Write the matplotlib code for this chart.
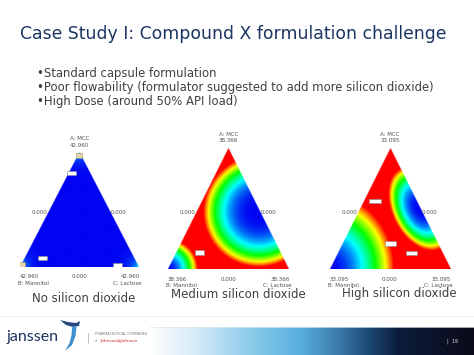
import numpy as np
import matplotlib
matplotlib.use("Agg")
import matplotlib.pyplot as plt
from matplotlib.colors import LinearSegmentedColormap
from matplotlib.patches import Rectangle, Polygon

W, H = 474, 355

# ---- slide text
title = "Case Study I: Compound X formulation challenge"
bullets = ["Standard capsule formulation",
           "Poor flowability (formulator suggested to add more silicon dioxide)",
           "High Dose (around 50% API load)"]
captions = ["No silicon dioxide", "Medium silicon dioxide", "High silicon dioxide"]
corner_max = ["42.960", "38.366", "33.095"]
corner_min = "0.000"
comp_names = ["A: MCC", "B: Mannitol", "C: Lactose"]

# ---- response surface models (low-response wells), one list per panel
# each well: centre (x, y) in triangle coords, axis angle (deg), semi-axes a, b, exponent
wells = [
    [],
    [((0.76, 0.48), 116.6, 0.46, 0.47, 3.0),
     ((0.0, 0.0), 0.0, 0.245, 0.245, 2.0)],
    [((0.0, 0.0), 0.0, 0.53, 0.61, 2.0),
     ((0.75, 0.50), 116.6, 0.37, 0.235, 2.5)],
]
# panel 1 is low everywhere with a small rise at the vertices
flat_level = 0.0
vertex_rise = 0.25

# ---- design points as mixture fractions (A, B, C)
design_pts = [
    [(0.82, 0.16, 0.02), (0.08, 0.77, 0.15), (0.02, 0.17, 0.81)],
    [(0.135, 0.675, 0.19)],
    [(0.56, 0.345, 0.095), (0.21, 0.39, 0.40), (0.13, 0.255, 0.615)],
]
vertex_pts = [(0.97, 0.02, 0.01), (0.02, 0.97, 0.01)]

# triangle boxes in pixels: left, right, top(apex), base
boxes = [(20, 139, 152, 267), (168, 289, 148, 269), (330, 450, 148, 269)]
cap_pos = [(84, 298), (238, 294), (399, 294)]

cmap = LinearSegmentedColormap.from_list(
    "dx", ["#0004f2", "#00ffff", "#00ff00", "#ffff00", "#ff0000"])


def px(x, y):
    return x / W, 1 - y / H


def to_xy(a, b, c):
    return 0.5 * a + c, a


fig = plt.figure(figsize=(W / 100, H / 100), dpi=100)
fig.patch.set_facecolor("white")

# title and bullets
fig.text(*px(20, 34), title, fontsize=12.45, color="#1b3563",
         ha="left", va="center", family="DejaVu Sans")
for i, b in enumerate(bullets):
    fig.text(*px(37, 73 + i * 14.3), "\u2022" + b, fontsize=8.4, color="#404040",
             ha="left", va="center", family="DejaVu Sans")

n = 400
gx, gy = np.meshgrid(np.linspace(0, 1, n), np.linspace(0, 1, n))
inside = (gy <= 2 * gx + 1e-9) & (gy <= 2 * (1 - gx) + 1e-9)

for k in range(3):
    l, r, t, bt = boxes[k]
    ax = fig.add_axes([l / W, 1 - bt / H, (r - l) / W, (bt - t) / H])
    ax.set_xlim(0, 1)
    ax.set_ylim(0, 1)
    ax.axis("off")

    if wells[k]:
        v = np.full(gx.shape, np.inf)
        for (cx, cy), ang, a, b, p in wells[k]:
            th = np.deg2rad(ang)
            dx, dy = gx - cx, gy - cy
            du = dx * np.cos(th) + dy * np.sin(th)
            dn = -dx * np.sin(th) + dy * np.cos(th)
            rr = np.sqrt((du / a) ** 2 + (dn / b) ** 2)
            v = np.minimum(v, rr ** p)
    else:
        v = np.full(gx.shape, flat_level)
        for vx, vy in [(0, 0), (1, 0), (0.5, 1)]:
            d = np.hypot(gx - vx, gy - vy)
            v = v + vertex_rise * np.exp(-d / 0.05)
    v = np.clip(v, 0, 1)
    rgba = cmap(v)
    rgba[..., 3] = inside.astype(float)
    ax.imshow(rgba, origin="lower", extent=[0, 1, 0, 1], interpolation="bilinear",
              aspect="auto")

    # design points
    for (a_, b_, c_) in design_pts[k]:
        x, y = to_xy(a_, b_, c_)
        bw = 0.075 if k < 2 else 0.095
        ax.add_patch(Rectangle((x - bw / 2, y - 0.018), bw, 0.036, facecolor="white",
                               edgecolor="#888888", lw=0.4, zorder=3))
    if k == 0:
        for (a_, b_, c_) in vertex_pts:
            x, y = to_xy(a_, b_, c_)
            ax.add_patch(Rectangle((x - 0.025, y - 0.02), 0.05, 0.04, facecolor="#e8d8b0",
                                   edgecolor="#a08a60", lw=0.4, zorder=3))

    lab = dict(fontsize=4, color="#505050", ha="center", va="center", clip_on=False)
    ax.text(0.5, 1.115, comp_names[0], **lab)
    ax.text(0.5, 1.06, corner_max[k], **lab)
    ax.text(0.16, 0.47, corner_min, **lab)
    ax.text(0.83, 0.47, corner_min, **lab)
    ax.text(0.08, -0.085, corner_max[k], **lab)
    ax.text(0.5, -0.085, corner_min, **lab)
    ax.text(0.93, -0.085, corner_max[k], **lab)
    ax.text(0.11, -0.14, comp_names[1], **lab)
    ax.text(0.90, -0.14, comp_names[2], **lab)

    fig.text(*px(*cap_pos[k]), captions[k], fontsize=8.5, color="#404040",
             ha="center", va="center", family="DejaVu Sans")

# ---- footer
bg = fig.add_axes([0, 0, 1, 1], zorder=-1)
bg.set_xlim(0, W)
bg.set_ylim(H, 0)
bg.axis("off")
bg.plot([0, W], [316, 316], color="#eeeeee", lw=0.8)
grad = LinearSegmentedColormap.from_list(
    "foot", [(0.0, "#ffffff"), (0.154, "#cfe9f6"), (0.31, "#8ccbea"),
             (0.46, "#58b0de"), (0.59, "#3878a8"), (0.68, "#1a4670"),
             (0.77, "#0c1c3a"), (1.0, "#0a0a18")])
bg.imshow(np.linspace(0, 1, 300)[None, :], cmap=grad, aspect="auto",
          extent=[150, W, 355, 327], zorder=1)
bg.plot([150, W], [327, 327], color="#dde8ee", lw=0.5, zorder=2)

fig.text(*px(7, 337), "janssen", fontsize=11.5, color="#1e3560", family="Lato",
         ha="left", va="center")
# swoosh mark
bar = [(60, 320), (68, 322), (76, 323), (80, 321), (79, 326), (73, 327), (66, 325)]
stem = [(73, 326), (76.5, 327), (75.5, 336), (72, 345), (65, 351), (69.5, 343),
        (71.5, 335), (72, 328)]
bg.add_patch(Polygon(bar, closed=True, facecolor="#27477f", edgecolor="none", zorder=3))
bg.add_patch(Polygon(stem, closed=True, facecolor="#3f8fd0", edgecolor="none", zorder=3))
bg.plot([88, 88], [333, 343], color="#aaaaaa", lw=0.5, zorder=3)
fig.text(*px(95, 334), "PHARMACEUTICAL COMPANIES", fontsize=2.4, color="#777777",
         ha="left", va="center")
fig.text(*px(95, 341), "of", fontsize=2.4, color="#777777", ha="left", va="center")
fig.text(*px(101, 341), "Johnson&Johnson", fontsize=3.2, color="#cc2020",
         ha="left", va="center", style="italic")
fig.text(*px(447, 341), "|  19", fontsize=3.5, color="#dddddd", ha="left", va="center")

fig.savefig("out.png", dpi=100)
